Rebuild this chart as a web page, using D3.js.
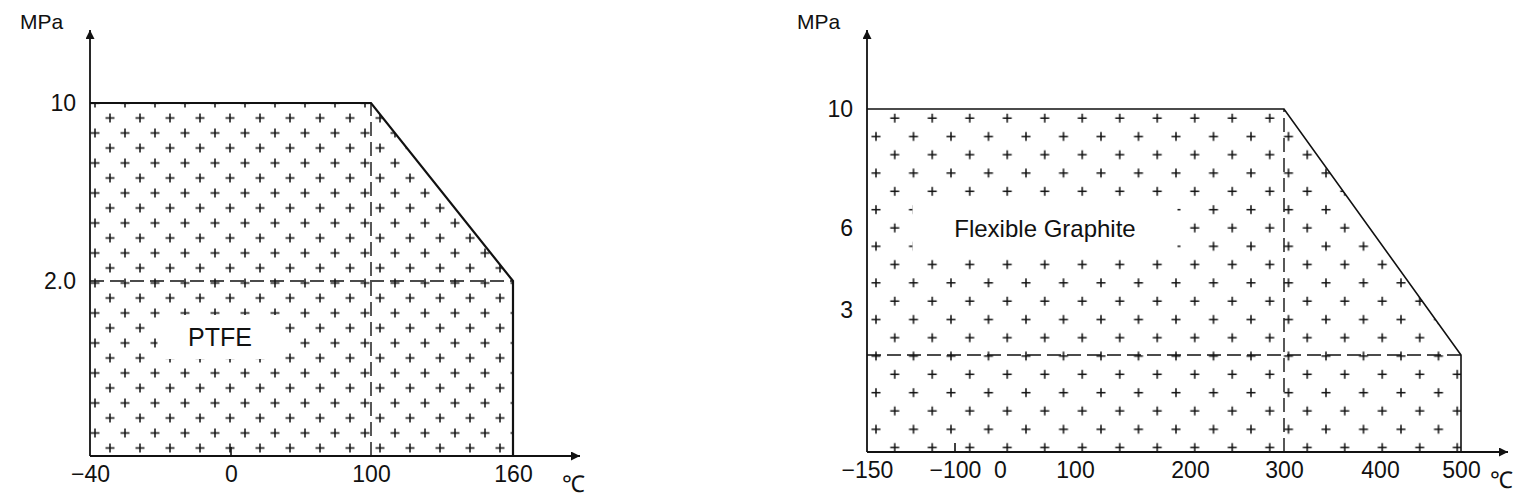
<!DOCTYPE html><html><head><meta charset="utf-8"><script src="https://cdn.jsdelivr.net/npm/d3@7"></script>
<style>body{margin:0;background:#fff}text{font-family:"Liberation Sans",Arial,sans-serif;fill:#111}</style></head><body>
<svg id="c" width="1536" height="499"></svg>
<script>
// Left chart (PTFE)
const ptfeXTicks = [-40, 0, 100, 160];
const ptfeYTicks = [10, 2.0];
const ptfeYLabels = ["10", "2.0"];
const ptfeEnvelope = [[-40,0],[-40,10],[100,10],[160,2],[160,0]];
const ptfeDashV = 100, ptfeDashH = 2;
// Right chart (Flexible Graphite)
const fgXTicks = [-150, -100, 0, 100, 200, 300, 400, 500];
const fgYTicks = [10, 6, 3];
const fgYLabels = ["10", "6", "3"];
const fgEnvelope = [[-150,0],[-150,10],[300,10],[500,1.5],[500,0]];
const fgDashV = 300, fgDashH = 1.5;

const svg = d3.select("#c");
const defs = svg.append("defs");
defs.append("marker").attr("id","arr").attr("viewBox","0 0 10 10").attr("refX",10).attr("refY",5)
  .attr("markerWidth",20).attr("markerHeight",9).attr("markerUnits","userSpaceOnUse").attr("orient","auto")
  .append("path").attr("d","M0,0L10,5L0,10Z").attr("fill","#111");

function chart(o){
  const x = d3.scaleLinear().domain(o.xd).range(o.xr);
  const y = d3.scaleLinear().domain(o.yd).range(o.yr);
  const g = svg.append("g");
  const p = defs.append("pattern").attr("id",o.id).attr("patternUnits","userSpaceOnUse")
    .attr("x",o.px).attr("y",o.py).attr("width",o.cw).attr("height",o.rh*2);
  const s=4.5;
  [[o.cw/2,o.rh/2],[0,o.rh*1.5],[o.cw,o.rh*1.5]].forEach(([a,b])=>{
    p.append("path").attr("d",`M${a-s},${b}H${a+s}M${a},${b-s}V${b+s}`).attr("stroke","#111").attr("stroke-width",1.5);
  });
  const line = d3.line().x(d=>x(d[0])).y(d=>y(d[1]));
  g.append("path").attr("d",line(o.env)+"Z").attr("fill",`url(#${o.id})`);
  g.append("rect").attr("x",o.lab[0]-o.lab[3]/2).attr("y",o.lab[1]-o.lab[4]/2).attr("width",o.lab[3]).attr("height",o.lab[4]).attr("fill","#fff");
  g.append("text").attr("x",o.lab[0]).attr("y",o.lab[1]).attr("text-anchor","middle").attr("dominant-baseline","central")
    .attr("font-size",o.lfs).text(o.lab[2]);
  const x0=o.xd[0], xe=o.env[3][0];
  g.append("path").attr("d",line([[o.dv,0],[o.dv,o.env[2][1]]])).attr("stroke","#111").attr("stroke-width",1.4).attr("stroke-dasharray","14,6").attr("fill","none");
  g.append("path").attr("d",line([[x0,o.dh],[xe,o.dh]])).attr("stroke","#111").attr("stroke-width",1.4).attr("stroke-dasharray","14,6").attr("fill","none");
  g.append("path").attr("d",line(o.env.slice(1))).attr("stroke","#111").attr("stroke-width",o.sw).attr("fill","none");
  g.append("line").attr("x1",o.xr[0]).attr("y1",o.yr[0]).attr("x2",o.ax).attr("y2",o.yr[0]).attr("stroke","#111").attr("stroke-width",1.8).attr("marker-end","url(#arr)");
  g.append("line").attr("x1",o.xr[0]).attr("y1",o.yr[0]).attr("x2",o.xr[0]).attr("y2",o.ay).attr("stroke","#111").attr("stroke-width",1.8).attr("marker-end","url(#arr)");
  const xa = g.append("g").attr("transform",`translate(0,${o.yr[0]})`).call(d3.axisBottom(x).tickValues(o.xt).tickSize(0).tickPadding(10).tickFormat(d=>d<0?"\u2212"+(-d):d));
  xa.select(".domain").remove();
  xa.attr("font-size",o.fs).attr("font-family",null);
  xa.selectAll("text").attr("fill","#111");
  const ya = g.append("g").attr("transform",`translate(${o.xr[0]},0)`).call(d3.axisLeft(y).tickValues(o.yt).tickSize(0).tickPadding(14).tickFormat((d,i)=>o.yl[i]));
  ya.select(".domain").remove();
  ya.attr("font-size",o.fs).attr("font-family",null);
  ya.selectAll("text").attr("fill","#111");
  g.append("line").attr("x1",x(o.mt)).attr("x2",x(o.mt)).attr("y1",o.yr[0]).attr("y2",o.yr[0]-9).attr("stroke","#111").attr("stroke-width",1.6);
  g.append("text").attr("x",o.xr[0]-70).attr("y",29).attr("font-size",21).text("MPa");
  g.append("text").attr("x",o.ax-18).attr("y",o.yr[0]+36).attr("font-size",o.fs).text("\u2103");
}
chart({id:"p1",xd:ptfeXTicks,xr:[90,231,371,513],yd:[0,2,10],yr:[456,281,103],env:ptfeEnvelope,dv:ptfeDashV,dh:ptfeDashH,
  xt:ptfeXTicks,yt:ptfeYTicks,yl:ptfeYLabels,px:95,py:110.5,cw:30,rh:15,sw:2.2,fs:23,lfs:25,ax:580,ay:30,mt:0,
  lab:[220,337,"PTFE",125,44]});
chart({id:"p2",xd:fgXTicks,xr:[867,955,1000,1075,1190,1284,1380,1461],yd:[0,1.5,3,6,10],yr:[452,355,310,228,109],env:fgEnvelope,dv:fgDashV,dh:fgDashH,
  xt:fgXTicks,yt:fgYTicks,yl:fgYLabels,px:876,py:109,cw:37.5,rh:18.3,sw:1.6,fs:23,lfs:24,ax:1508,ay:30,mt:-100,
  lab:[1045,228,"Flexible Graphite",265,56]});
</script></body></html>
